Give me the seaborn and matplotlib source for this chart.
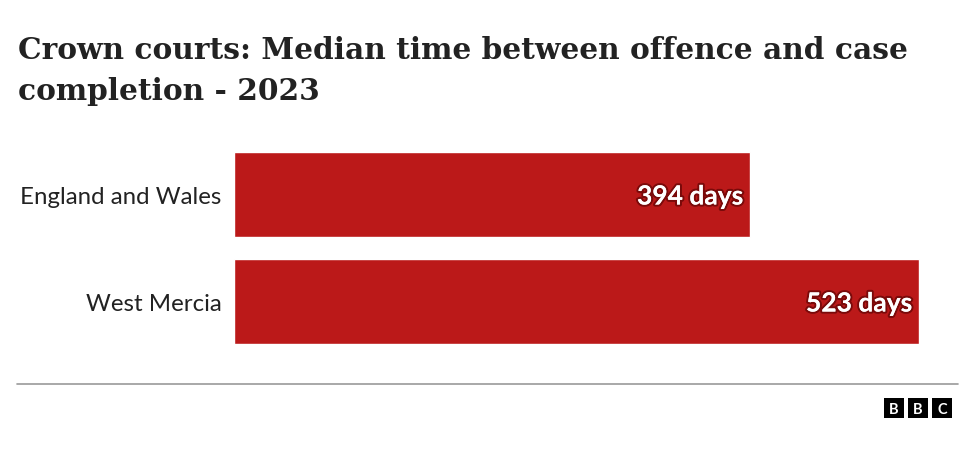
import pandas as pd
import matplotlib
matplotlib.use("Agg")
import matplotlib.pyplot as plt
import matplotlib.patheffects as pe
from matplotlib.patches import Rectangle
import seaborn as sns

# data
regions = ["England and Wales", "West Mercia"]
median_days = [394, 523]
value_labels = ["394 days", "523 days"]

title = "Crown courts: Median time between offence and case\ncompletion - 2023"

BAR_RED = "#BB1919"
TEXT_DARK = "#222222"

W, H = 976, 452


def px_box(x0, y0, x1, y1):
  """pixel box (top-left origin) -> figure fraction [left, bottom, width, height]"""
  return [x0 / W, 1 - y1 / H, (x1 - x0) / W, (y1 - y0) / H]


def main():
  sns.set_theme(style="white")
  plt.rcParams["font.family"] = ["Lato", "DejaVu Sans"]

  df = pd.DataFrame({"region": regions, "days": median_days})

  fig = plt.figure(figsize=(W / 100, H / 100), dpi=100)
  fig.patch.set_facecolor("white")

  # bars: zero at x=234px, 1 day ~ 1.3097 px
  scale = (919 - 234) / 523
  ax = fig.add_axes(px_box(234, 153, 958, 345))
  sns.barplot(data=df, x="days", y="region", color=BAR_RED, saturation=1,
              width=0.794, ax=ax, orient="h")
  ax.set_xlim(0, (958 - 234) / scale)
  ax.set_ylim(1.397, -0.397)
  for sp in ax.spines.values():
    sp.set_visible(False)
  ax.set_xticks([])
  ax.set_xlabel("")
  ax.set_ylabel("")
  ax.tick_params(axis="y", length=0, pad=9, labelsize=17.3, labelcolor=TEXT_DARK)

  # value labels inside bar ends
  for i, (v, lab) in enumerate(zip(median_days, value_labels)):
    t = ax.text(v - 7 / scale, i, lab, ha="right", va="center_baseline",
                color="white", fontsize=19, fontweight="bold")
    t.set_path_effects([pe.withStroke(linewidth=3, foreground="#7A0A0A"), pe.Normal()])

  # title
  fig.text(18 / W, 1 - 36 / H, title, ha="left", va="top", fontsize=21.3,
           fontweight="bold", family="DejaVu Serif", color=TEXT_DARK,
           linespacing=1.5)

  # footer rule
  fig.add_artist(plt.Line2D([17 / W, 958 / W], [1 - 385 / H, 1 - 385 / H],
                            color="#999999", linewidth=1.2))

  # BBC blocks
  for k, letter in enumerate("BBC"):
    x0 = 884 + k * 24
    fig.add_artist(Rectangle((x0 / W, 1 - 419 / H), 20 / W, 20 / H,
                             transform=fig.transFigure, facecolor="black",
                             edgecolor="none"))
    fig.text((x0 + 10) / W, 1 - 409.5 / H, letter, ha="center", va="center",
             color="white", fontsize=10.5, fontweight="bold")

  fig.savefig("out.png", dpi=100, facecolor="white")
  plt.close()


if __name__ == "__main__":
  main()
